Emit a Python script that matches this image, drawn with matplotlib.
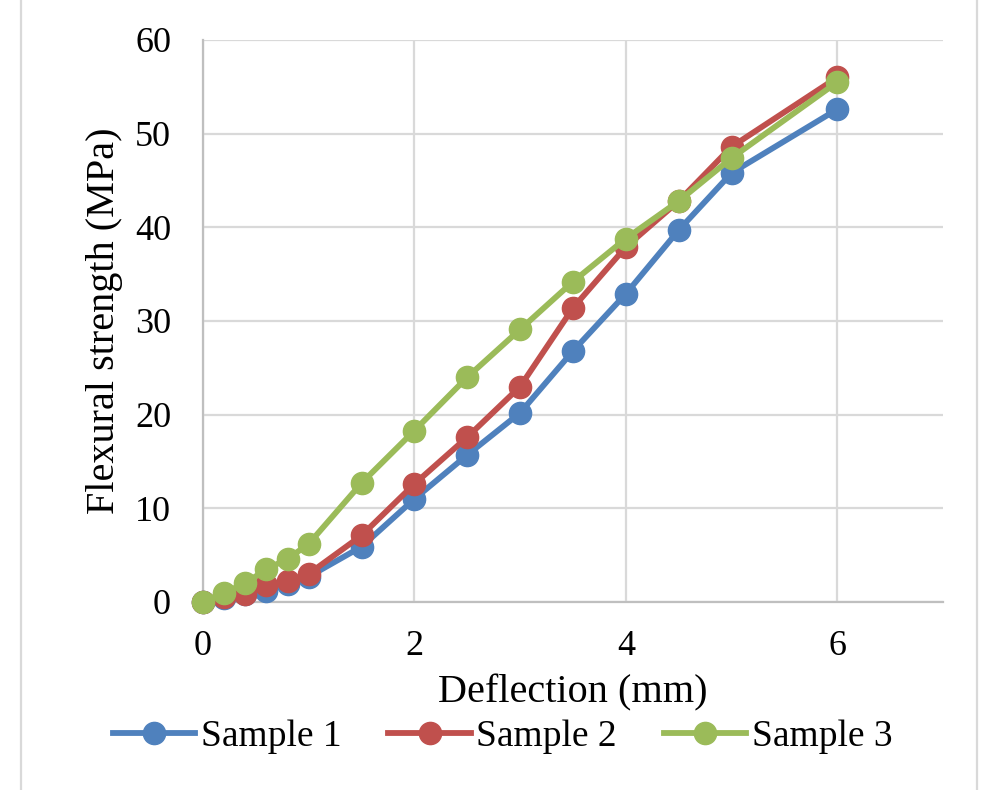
import matplotlib
matplotlib.use("Agg")
import matplotlib.pyplot as plt
from matplotlib.lines import Line2D

deflection = [0, 0.2, 0.4, 0.6, 0.8, 1, 1.5, 2, 2.5, 3, 3.5, 4, 4.5, 5, 6]
sample1 = [0, 0.4, 0.8, 1.2, 1.9, 2.7, 5.9, 11.0, 15.7, 20.2, 26.8, 32.9, 39.7, 45.8, 52.6]
sample2 = [0, 0.5, 0.9, 1.8, 2.2, 3.0, 7.1, 12.6, 17.6, 23.0, 31.4, 37.9, 42.8, 48.6, 56.0]
sample3 = [0, 1.0, 2.0, 3.5, 4.6, 6.2, 12.7, 18.3, 24.0, 29.1, 34.2, 38.8, 42.8, 47.4, 55.5]
labels = ["Sample 1", "Sample 2", "Sample 3"]
colors = ["#4F81BD", "#C0504D", "#9BBB59"]

plt.rcParams["font.family"] = ["Liberation Serif", "DejaVu Serif"]

fig = plt.figure(figsize=(9.98, 7.9), dpi=100)
ax = fig.add_axes([0.2034, 0.238, 0.7415, 0.7114])

for ys, lab, col in zip([sample1, sample2, sample3], labels, colors):
    ax.plot(deflection, ys, color=col, linewidth=4.2, marker="o",
            markersize=16, label=lab, clip_on=False, zorder=3)

ax.set_xlim(0, 7)
ax.set_ylim(0, 60)
ax.set_xticks([0, 2, 4, 6])
ax.set_yticks(range(0, 61, 10))
ax.grid(True, color="#D9D9D9", linewidth=1.6)
ax.set_axisbelow(True)
for side in ["top", "right"]:
    ax.spines[side].set_visible(False)
for side in ["left", "bottom"]:
    ax.spines[side].set_color("#BFBFBF")
    ax.spines[side].set_linewidth(1.6)
ax.tick_params(length=0, labelsize=26)
ax.tick_params(axis="x", pad=20)
ax.tick_params(axis="y", pad=23)
ax.set_xlabel("Deflection (mm)", fontsize=29)
ax.set_ylabel("Flexural strength (MPa)", fontsize=29)
ax.xaxis.set_label_coords(0.5, -0.128)
ax.yaxis.set_label_coords(-0.108, 0.5)

ax.legend(loc="center", bbox_to_anchor=(0.405, -0.24), ncol=3, frameon=False,
          fontsize=27, handlelength=2.2, handletextpad=0.15, columnspacing=1.25,
          borderaxespad=0, borderpad=0)

# chart area border lines
for xf in [21 / 998, 977 / 998]:
    fig.add_artist(Line2D([xf, xf], [0, 1], color="#D9D9D9", linewidth=1.6,
                          transform=fig.transFigure))

fig.savefig("out.png", dpi=100)
